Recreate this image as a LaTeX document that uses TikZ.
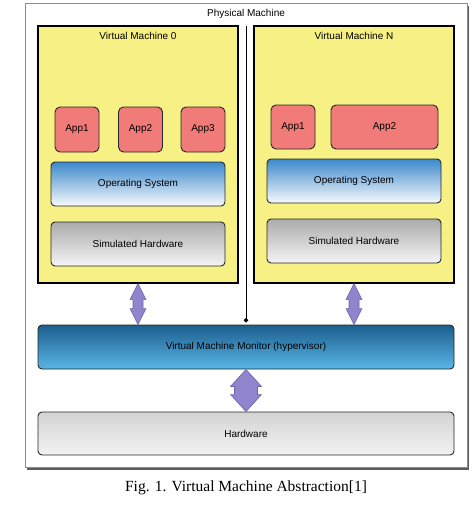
\documentclass[tikz,border=0pt]{standalone}
\usepackage{fontspec}
\setmainfont{Liberation Sans}
\newfontfamily\capfont{Liberation Serif}
\usetikzlibrary{calc,shadows,arrows.meta}

\definecolor{vmyellow}{HTML}{F7F084}
\definecolor{appred}{HTML}{F07B78}
\definecolor{osblue}{HTML}{3C88CC}
\definecolor{vmmtop}{HTML}{1D5E8E}
\definecolor{vmmbot}{HTML}{58B6E6}
\definecolor{arrowfill}{HTML}{9085CC}
\definecolor{arrowline}{HTML}{6E63AA}

\tikzset{
  layer/.style={draw=black!85, line width=0.9pt, rounded corners=4pt,
    minimum width=174pt, minimum height=44pt, inner sep=0pt,
    font=\fontsize{10}{12}\selectfont},
  vmbox/.style={draw=black, line width=1.1pt, fill=vmyellow,
    minimum width=200pt, minimum height=257pt, inner sep=0pt},
  appbox/.style={layer, fill=appred, minimum width=44pt, minimum height=45pt,
    rounded corners=5pt},
  osbox/.style={layer, top color=osblue, bottom color=white!96!osblue},
  simbox/.style={layer, top color=black!33, bottom color=black!4},
  vmmbox/.style={layer, top color=vmmtop, bottom color=vmmbot,
    minimum width=416pt},
  hwbox/.style={layer, top color=black!17, bottom color=black!5,
    minimum width=416pt, minimum height=43pt},
  updown/.style={fill=arrowfill, draw=arrowline, line width=0.6pt,
    line join=round},
  label/.style={font=\fontsize{10}{12}\selectfont, inner sep=0pt}
}

\begin{document}
\begin{tikzpicture}[x=1pt, y=-1pt]
    \useasboundingbox (0, 0) rectangle (474, 514);

    % physical machine
    \node[draw=black!45, line width=0.8pt, fill=white, minimum width=442pt,
      minimum height=464pt, inner sep=0pt,
      drop shadow={shadow xshift=2pt, shadow yshift=-3pt, opacity=0.85,
        fill=black!75}]
      (pm) at (246, 235) {};
    \node[label] (pmlabel) at (246, 14) {Physical Machine};

    % virtual machines
    \node[vmbox] (vm0) at (138, 154.5) {};
    \node[vmbox] (vmn) at (354, 154.5) {};
    \node[label] (vm0label) at (138, 36) {Virtual Machine 0};
    \node[label] (vmnlabel) at (354, 36) {Virtual Machine N};

    \node[appbox] (app01) at (77, 129.5) {App1};
    \node[appbox] (app02) at (140.5, 129.5) {App2};
    \node[appbox] (app03) at (203, 129.5) {App3};
    \node[osbox] (os0) at (138, 184) {Operating System};
    \node[simbox] (sim0) at (138, 244) {Simulated Hardware};

    \node[appbox, minimum height=44pt] (appn1) at (293, 127) {App1};
    \node[appbox, minimum width=107pt, minimum height=44pt] (appn2)
      at (384.5, 127) {App2};
    \node[osbox] (osn) at (354, 181) {Operating System};
    \node[simbox] (simn) at (354, 241) {Simulated Hardware};

    % monitor and hardware
    \node[vmmbox] (vmm) at (246, 347) {Virtual Machine Monitor (hypervisor)};
    \node[hwbox] (hw) at (246, 433.5) {Hardware};

    \coordinate (sep) at (246, 26);
    \draw[line width=0.9pt, -{Circle[length=4.5pt]}] (sep) --%
      ($(vmm.north)+(0, -2)$);

    % double arrows
    \foreach \top/\bot/\h/\s/\l in {vm0/vmm/8/5/16, vmn/vmm/8/5/16, vmm/hw/15.5/11.5/17} {
      \path (\top.south) coordinate (t) (\top.south |- \bot.north) coordinate (b);
      \draw[updown] (t) -- ++(\h, \l) -- ++(\s-\h, 0) --%
        ($(b)+(\s, -\l)$) -- ++(\h-\s, 0) -- (b) -- ++(-\h, -\l) --%
        ++(\h-\s, 0) -- ($(t)+(-\s, \l)$) -- ++(\s-\h, 0) -- cycle;
    }

    \node[font=\capfont\fontsize{15.5}{18}\selectfont, inner sep=0pt]
      (caption) at (246, 488) {Fig. 1. Virtual Machine Abstraction[1]};
\end{tikzpicture}
\end{document}
